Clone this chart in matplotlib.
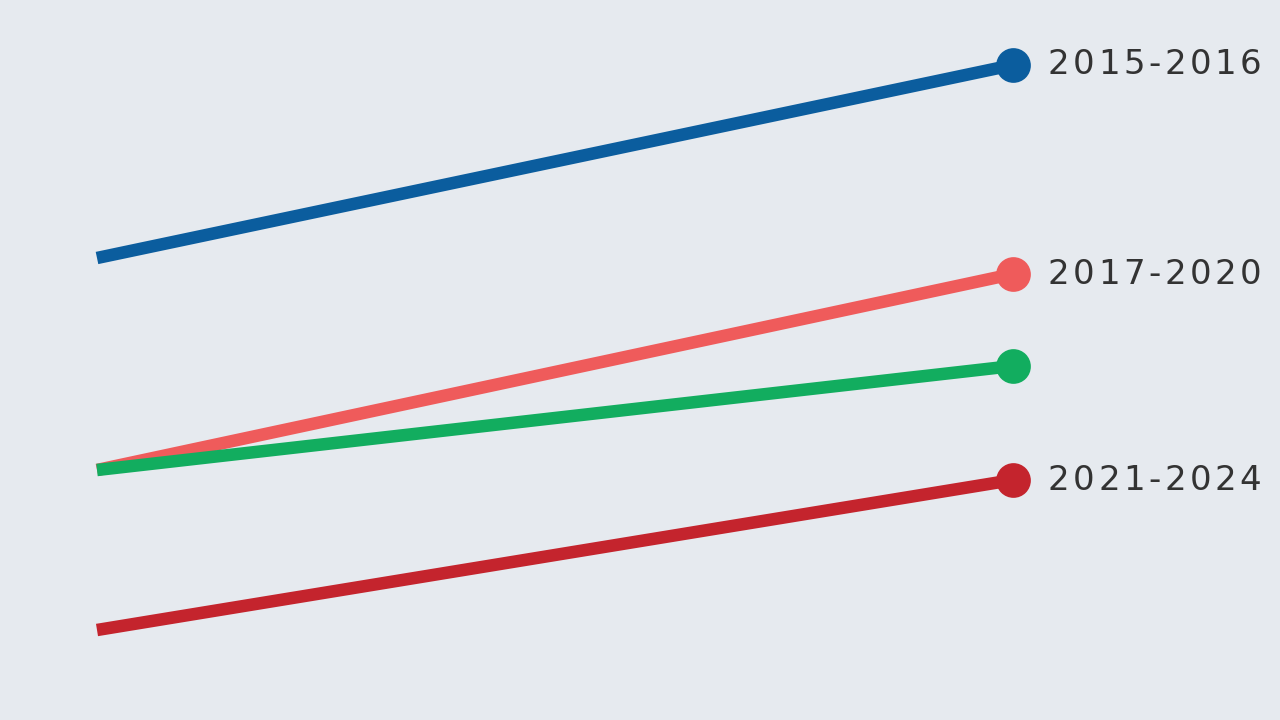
import numpy as np
import matplotlib.pyplot as plt

# valori di partenza e di arrivo per ogni periodo
periodi = ['2015-2016', '2017-2020', '', '2021-2024']
inizio = [46.2, 25.0, 25.0, 9.0]
fine = [65.5, 44.6, 35.4, 24.0]
colori = ['#0b5d9e', '#ef5b5b', '#12ad5f', '#c4242d']

sfondo = '#e6eaef'

fig = plt.figure(figsize=(12.8, 7.2), dpi=100, facecolor=sfondo)
ax = fig.add_axes([0, 0, 1, 1])
ax.set_facecolor(sfondo)

for lab, y0, y1, c in zip(periodi, inizio, fine, colori):
    ax.plot([0, 1], [y0, y1], color=c, lw=9, solid_capstyle='butt', zorder=2)
    ax.plot([1], [y1], 'o', color=c, ms=25, mec='none', zorder=3)

ax.set_xlim(-97 / 916, (1280 - 97) / 916)
ax.set_ylim(0, 72)
ax.axis('off')

# etichette con spaziatura tra le lettere
fig.canvas.draw()
renderer = fig.canvas.get_renderer()
for lab, y1 in zip(periodi, fine):
    dx = 35
    for ch in lab:
        t = ax.annotate(ch, (1, y1), xytext=(dx, 0), textcoords='offset pixels',
                        ha='left', va='center', fontsize=24.5, color='#333333',
                        family='DejaVu Sans', zorder=4)
        w = t.get_window_extent(renderer).width
        dx += w + 3.5

fig.savefig('out.png', dpi=100, facecolor=sfondo)
